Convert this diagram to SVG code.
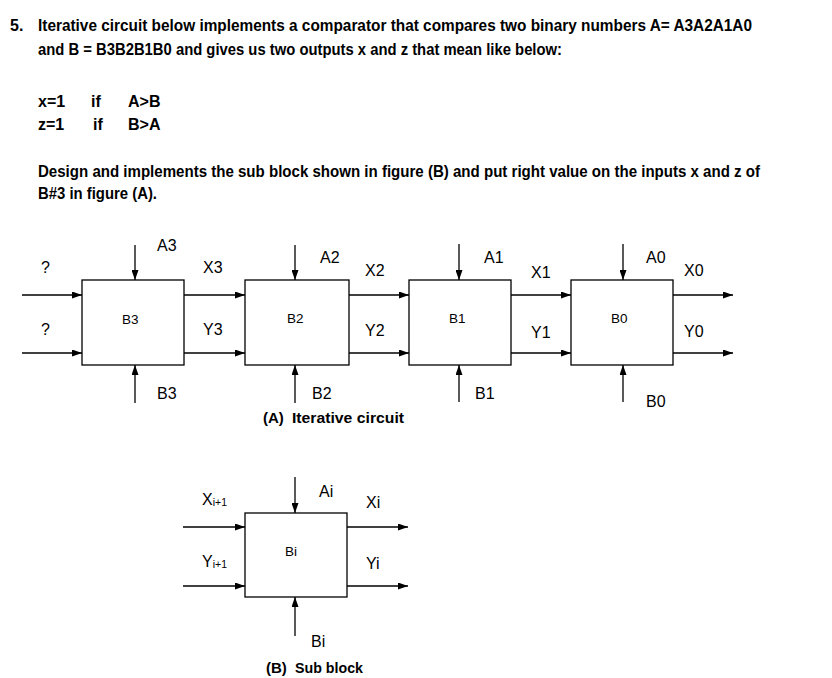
<svg xmlns="http://www.w3.org/2000/svg" width="832" height="678" viewBox="0 0 832 678">
<style>
.t{font-family:"Liberation Sans",Arial,sans-serif;font-weight:bold;font-size:16px;fill:#000}
.l{font-family:"Liberation Sans",Arial,sans-serif;font-size:16px;fill:#000}
.in{font-family:"Liberation Sans",Arial,sans-serif;font-size:13.5px;fill:#000}
.sub{font-size:10.5px}
.cap{font-family:"Liberation Sans",Arial,sans-serif;font-weight:bold;font-size:15px;fill:#000}
.box{fill:#fff;stroke:#000;stroke-width:1.3}
.w{stroke:#000;stroke-width:1.3;fill:none;marker-end:url(#ah)}
</style>
<defs>
<marker id="ah" markerUnits="userSpaceOnUse" markerWidth="10" markerHeight="7" refX="10" refY="3.5" orient="auto">
<path d="M0,0 L10,3.5 L0,7 Z" fill="#000"/>
</marker>
</defs>
<rect width="832" height="678" fill="#fff"/>

<g id="question">
<text class="t" x="10" y="31">5.</text>
<text class="t" x="38" y="31" textLength="714" lengthAdjust="spacingAndGlyphs">Iterative circuit below implements a comparator that compares two binary numbers A= A3A2A1A0</text>
<text class="t" x="38" y="55" textLength="524" lengthAdjust="spacingAndGlyphs">and B = B3B2B1B0 and gives us two outputs x and z that mean like below:</text>
<text class="t" x="38" y="107">x=1</text>
<text class="t" x="91" y="107">if</text>
<text class="t" x="128" y="107">A&gt;B</text>
<text class="t" x="38" y="130">z=1</text>
<text class="t" x="93" y="130">if</text>
<text class="t" x="128" y="130">B&gt;A</text>
<text class="t" x="38" y="177" textLength="722" lengthAdjust="spacingAndGlyphs">Design and implements the sub block shown in figure (B) and put right value on the inputs x and z of</text>
<text class="t" x="38" y="199" textLength="119" lengthAdjust="spacingAndGlyphs">B#3 in figure (A).</text>
</g>

<g id="connectors">
<line class="w" x1="22" y1="295" x2="82" y2="295"/>
<line class="w" x1="22" y1="353" x2="82" y2="353"/>
<line class="w" x1="184" y1="295" x2="245" y2="295"/>
<line class="w" x1="184" y1="353" x2="245" y2="353"/>
<line class="w" x1="349" y1="295" x2="409" y2="295"/>
<line class="w" x1="349" y1="353" x2="409" y2="353"/>
<line class="w" x1="511" y1="295" x2="571" y2="295"/>
<line class="w" x1="511" y1="353" x2="571" y2="353"/>
<line class="w" x1="673" y1="295" x2="733" y2="295"/>
<line class="w" x1="673" y1="353" x2="733" y2="353"/>
<line class="w" x1="135" y1="245" x2="135" y2="280"/>
<line class="w" x1="135" y1="403" x2="135" y2="365"/>
<line class="w" x1="295" y1="245" x2="295" y2="280"/>
<line class="w" x1="295" y1="403" x2="295" y2="365"/>
<line class="w" x1="459" y1="244" x2="459" y2="280"/>
<line class="w" x1="459" y1="402" x2="459" y2="365"/>
<line class="w" x1="623" y1="244" x2="623" y2="280"/>
<line class="w" x1="623" y1="402" x2="623" y2="365"/>
<line class="w" x1="183" y1="527" x2="245" y2="527"/>
<line class="w" x1="183" y1="586" x2="245" y2="586"/>
<line class="w" x1="347" y1="527" x2="408" y2="527"/>
<line class="w" x1="347" y1="586" x2="408" y2="586"/>
<line class="w" x1="295" y1="477" x2="295" y2="513"/>
<line class="w" x1="295" y1="636" x2="295" y2="597"/>
</g>

<g id="B3">
<rect class="box" x="82" y="280" width="102" height="85"/>
<text class="in" x="122" y="324">B3</text>
</g>
<g id="B2">
<rect class="box" x="245" y="280" width="104" height="85"/>
<text class="in" x="287" y="323">B2</text>
</g>
<g id="B1">
<rect class="box" x="409" y="280" width="102" height="85"/>
<text class="in" x="449" y="323">B1</text>
</g>
<g id="B0">
<rect class="box" x="571" y="280" width="102" height="85"/>
<text class="in" x="611" y="323">B0</text>
</g>
<g id="Bi">
<rect class="box" x="245" y="513" width="102" height="84"/>
<text class="in" x="285" y="556">Bi</text>
</g>

<g id="labels-A">
<text class="l" x="41" y="273">?</text>
<text class="l" x="41" y="335">?</text>
<text class="l" x="157" y="251">A3</text>
<text class="l" x="203" y="273">X3</text>
<text class="l" x="203" y="335">Y3</text>
<text class="l" x="157" y="399">B3</text>
<text class="l" x="320" y="263">A2</text>
<text class="l" x="365" y="275.5">X2</text>
<text class="l" x="365" y="336">Y2</text>
<text class="l" x="312" y="399">B2</text>
<text class="l" x="484" y="263">A1</text>
<text class="l" x="531" y="278">X1</text>
<text class="l" x="531" y="338">Y1</text>
<text class="l" x="475" y="399">B1</text>
<text class="l" x="646" y="263">A0</text>
<text class="l" x="684" y="275.5">X0</text>
<text class="l" x="684" y="336.5">Y0</text>
<text class="l" x="646" y="406.5">B0</text>
<text class="cap" x="263" y="422.5">(A)<tspan x="292" textLength="112" lengthAdjust="spacingAndGlyphs">Iterative circuit</tspan></text>
</g>

<g id="labels-B">
<text class="l" x="202" y="505">X<tspan class="sub" dy="1">i+1</tspan></text>
<text class="l" x="202" y="566.5">Y<tspan class="sub" dy="1">i+1</tspan></text>
<text class="l" x="319" y="496.5">Ai</text>
<text class="l" x="366" y="508">Xi</text>
<text class="l" x="366" y="569">Yi</text>
<text class="l" x="311" y="647">Bi</text>
<text class="cap" x="266" y="673">(B)<tspan x="295" textLength="68" lengthAdjust="spacingAndGlyphs">Sub block</tspan></text>
</g>
</svg>
